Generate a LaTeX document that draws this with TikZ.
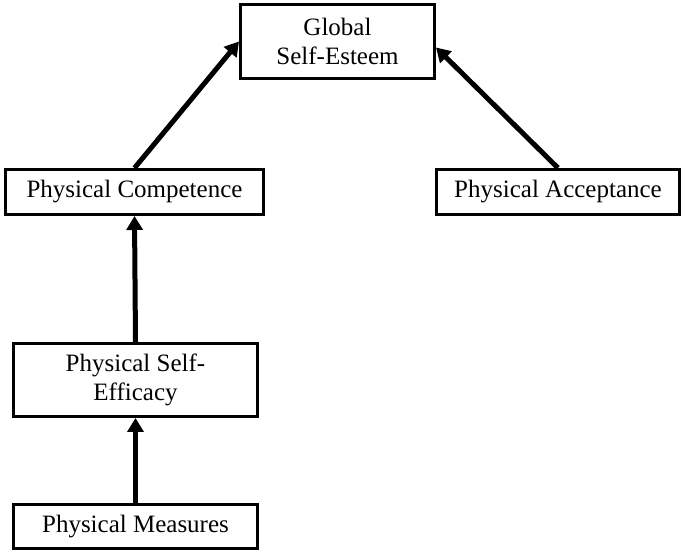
\documentclass[tikz,border=0pt]{standalone}
\usepackage{fontspec}
\setmainfont{Liberation Serif}
\usetikzlibrary{arrows.meta}
\begin{document}
\begin{tikzpicture}[x=1pt,y=1pt,
  box/.style={draw,line width=3pt,rectangle,align=center,inner sep=0pt,
    font=\fontsize{25}{29}\selectfont},
  arr/.style={line width=5pt,-{Triangle[length=14pt,width=16pt]}}]
\useasboundingbox (0,0) rectangle (685,554);
\node[box,minimum width=194,minimum height=74] (global) at (337.5,512.5) {Global\\Self-Esteem};
\node[box,minimum width=258,minimum height=45] (comp) at (134.5,362) {Physical Competence};
\node[box,minimum width=243,minimum height=45] (accept) at (558,362) {Physical Acceptance};
\node[box,minimum width=244,minimum height=73] (effic) at (135.5,174) {Physical Self-\\Efficacy};
\node[box,minimum width=244,minimum height=44] (meas) at (135.5,27.5) {Physical Measures};

\draw[arr] (comp.north) -- (global.west);
\draw[arr] (accept.north) -- ([yshift=-6]global.east);
\draw[arr] (effic.north) -- (comp.south);
\draw[arr] (meas.north) -- (effic.south);
\end{tikzpicture}
\end{document}
